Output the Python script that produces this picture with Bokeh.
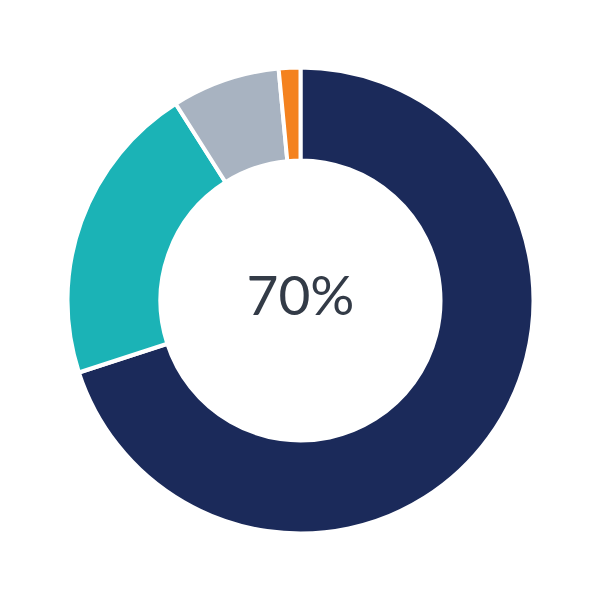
from bokeh.plotting import figure
from bokeh.embed import file_html
from bokeh.resources import INLINE
from bokeh.models import ColumnDataSource, Range1d
from bokeh.core.properties import value
import math

categories = ["A", "B", "C", "D"]
shares = [70, 21, 7.5, 1.5]
colors = ["#1b2a5a", "#1bb3b6", "#a8b3c1", "#f4821f"]
center_label = "70%"

total = sum(shares)
starts, ends = [], []
cum = 0.0
for s in shares:
    starts.append(math.radians(90 - cum / total * 360))
    cum += s
    ends.append(math.radians(90 - cum / total * 360))

src = ColumnDataSource(dict(cat=categories, val=shares, color=colors, start=starts, end=ends))

W = 584
p = figure(width=W, height=W, output_backend="svg", toolbar_location=None,
           x_range=Range1d(-300, W - 300), y_range=Range1d(-(W - 300), 300),
           min_border=0)
p.axis.visible = False
p.grid.visible = False
p.outline_line_color = None
p.background_fill_color = "white"

p.annular_wedge(x=0, y=0, inner_radius=140, outer_radius=233,
                start_angle="start", end_angle="end", direction="clock",
                fill_color="color", line_color="white", line_width=4, source=src)

p.text(x=[0], y=[7], text=[center_label], text_align="center", text_baseline="middle",
       text_font=value("Lato"), text_font_size="55px", text_color="#333b47")

open("out.html", "w").write(file_html(p, INLINE))
